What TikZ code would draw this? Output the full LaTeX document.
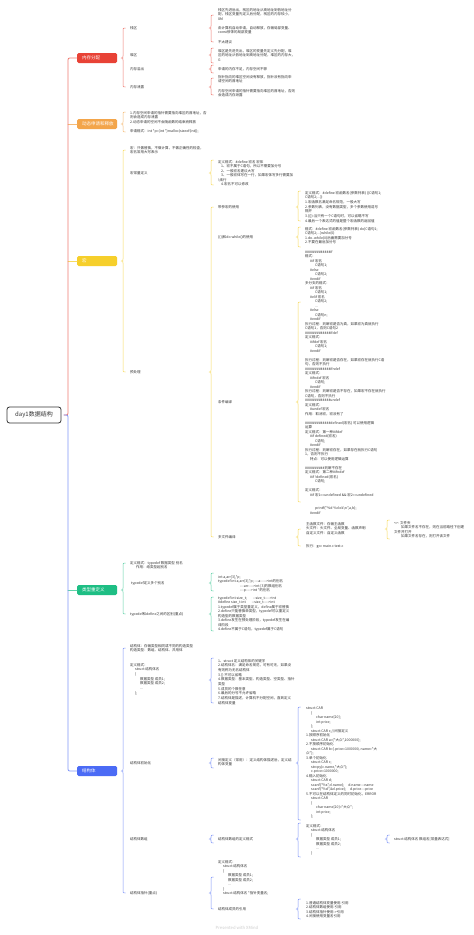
\documentclass[tikz,border=0pt]{standalone}
\usepackage{fontspec}
\setmainfont{Noto Sans CJK SC}[Ligatures=TeXOff]
\definecolor{cred}{HTML}{E84236}
\definecolor{cora}{HTML}{F3A54A}
\definecolor{cyel}{HTML}{F6CF2B}
\definecolor{cgrn}{HTML}{1EBE84}
\definecolor{cblu}{HTML}{4B6BF5}
\definecolor{tx}{HTML}{333333}
\colorlet{ltred}{cred!70}
\colorlet{ltora}{cora!75}
\colorlet{ltyel}{cyel!75}
\colorlet{ltgrn}{cgrn!70}
\colorlet{ltblu}{cblu!70}
\newcommand\brc[5]{\draw[#1,line width=0.5pt,line cap=round,line join=round] (#2+2.5,#3) .. controls (#2,#3) .. (#2,#3+2.5) -- (#2,#4-2) .. controls (#2,#4) .. (#2-2,#4) .. controls (#2,#4) .. (#2,#4+2) -- (#2,#5-2.5) .. controls (#2,#5) .. (#2+2.5,#5);}
\newcommand\ii[1]{\hspace*{#1pt}}
\newcommand\hh{\#\#\#\#\#\#\#\#\#\#\#\#\#}
\begin{document}
\begin{tikzpicture}[x=1pt,y=-1pt,
  t/.style={font=\fontsize{3.5}{4.5}\selectfont, text=tx, inner sep=0pt, align=left, anchor=north west},
  t1/.style={t, anchor=west},
  wide/.style={font=\fontsize{3.5}{4.65}\selectfont},
  box/.style={anchor=west, minimum height=10pt, minimum width=40pt, inner xsep=5pt, inner ysep=0pt, rounded corners=1.5pt, text=white, font=\fontsize{4.5}{5}\selectfont},
  trunk/.style={line width=0.8pt, line cap=round}]
\useasboundingbox (0,0) rectangle (474,935);
\fill[white] (0,0) rectangle (474,935);

% root and main branches
\node[draw=tx, line width=0.8pt, rounded corners=2.5pt, fill=white, minimum width=54pt, minimum height=16pt, inner sep=0pt, font=\fontsize{6}{7}\selectfont, text=tx] (root) at (34,415) {day1数据结构};
\node[box, fill=cred] (n1) at (77,58) {\makebox[30pt][l]{内存分配}};
\node[box, fill=cora] (n2) at (77,124) {\makebox[30pt][l]{动态申请和释放}};
\node[box, fill=cyel] (n3) at (77,261) {\makebox[30pt][l]{宏}};
\node[box, fill=cgrn] (n4) at (77,590) {\makebox[30pt][l]{类型重定义}};
\node[box, fill=cblu] (n5) at (77,771) {\makebox[30pt][l]{结构体}};
\coordinate (tip) at (64,415);
\draw[ltora,trunk] (68,124) -- (n2.west);
\draw[ltyel,trunk] (68,261) -- (n3.west);
\draw[ltgrn,trunk] (68,590) -- (n4.west);
\draw[ltred,trunk] (tip) .. controls (68,415) .. (68,411) -- (68,62) .. controls (68,58) .. (72,58) -- (n1.west);
\draw[ltblu,trunk] (tip) .. controls (68,415) .. (68,419) -- (68,767) .. controls (68,771) .. (72,771) -- (n5.west);

% ---------- 内存分配
\node[t1] (r1) at (130,28) {栈区};
\node[t1] (r2) at (130,55) {堆区};
\node[t1] (r3) at (130,69) {内存溢出};
\node[t1] (r4) at (130,87) {内存泄露};
\brc{ltred}{123}{28}{58}{87}
\node[t] (r1a) at (218,8.1) {栈区先进后出，栈区的地址从高地址到低地址分\\配，栈区变量先定义后分配，栈区的内存较小，\\8M};
\node[t] (r1b) at (218,26.1) {由计算机自动申请，自动释放，存储局部变量、\\const修饰的局部变量};
\node[t1] (r1c) at (218,42) {不太建议};
\brc{ltred}{211}{15}{28}{42}
\node[t] (r2a) at (218,49.1) {堆区是先进先出，堆区的变量先定义先分配，堆\\区的地址从低地址到高地址分配，堆区的内存大，\\G};
\brc{ltred}{211}{48}{55}{63}
\node[t1] (r3a) at (218,69) {申请的内存不足，内存空间不够};
\brc{ltred}{211}{65}{69}{73}
\node[t] (r4a) at (218,75.1) {指针指向的堆区空间没有释放，指针没有指向申\\请空间的首地址};
\node[t] (r4b) at (218,89.1) {内存空间申请的指针需要指向堆区的首地址，否则\\会造成内存泄露};
\brc{ltred}{211}{78}{87}{95}

% ---------- 动态申请和释放
\node[t] (o1) at (130,111.1) {1.内存空间申请的指针需要指向堆区的首地址，否\\则会造成内存泄露\\2.动态申请的空间不会随函数的结束而释放\\ \mbox{}\\申请格式：int *p=(int *)malloc(sizeof(int));};
\brc{ltora}{123}{112}{124}{132}

% ---------- 宏
\node[t] (m0) at (130,146.1) {宏：只做替换，不做计算，不做正确性的检查，\\宏名常用大写表示};
\node[t1] (m1) at (130,173) {宏常量定义};
\node[t1] (m2) at (130,372) {预处理};
\brc{ltyel}{123}{150}{261}{372}
\node[t] (m1a) at (218,160.1) {定义格式：\#define 宏名 宏体\\\ii{3}1、宏不属于C语句，所以不需要加分号\\\ii{3}2、一般宏名建议大写\\\ii{3}3、一般宏体写在一行，如果宏体写多行需要加\\\textbackslash 续行\\\ii{3}4.宏名不可以修改};
\brc{ltyel}{211}{160}{173}{185}
\node[t1] (p1) at (218,207) {带参宏的使用};
\node[t1] (p2) at (218,237) {(\{\})和do while()的使用};
\node[t1] (p3) at (218,402) {条件编译};
\node[t1] (p4) at (218,537) {多文件编译};
\brc{ltyel}{211}{207}{372}{537}
\node[t, wide] (p1a) at (305,191.1) {定义格式：\#define 宏函数名(参数列表) (\{C语句1;\\C语句2;...\})\\1.宏函数名满足命名规范，一般大写\\2.参数列表，没有数据类型，多个参数使用逗号\\隔开\\3.(\{\}):当只有一个C语句时，可以省略不写\\4.最后一个表达式的值是整个宏函数的返回值};
\brc{ltyel}{298}{191}{207}{221}
\node[t] (p2a) at (305,227.1) {格式：\#define 宏函数名(参数列表) do\{C语句1;\\C语句2;...\}while(0)\\1.do..while(0)后面需要加分号\\2.不要在最后加分号};
\brc{ltyel}{298}{227}{237}{247}
\node[t] (p3a) at (305,250.1) {\hh if\\
格式：\\
\ii{5}\#if 宏名\\
\ii{10}C语句1;\\
\ii{5}\#else\\
\ii{10}C语句2;\\
\ii{5}\#endif\\
多分支的格式：\\
\ii{5}\#if 宏名\\
\ii{10}C语句1;\\
\ii{5}\#elif 宏名\\
\ii{10}C语句2;\\
\ii{10}...\\
\ii{5}\#else\\
\ii{10}C语句n;\\
\ii{5}\#endif\\
执行过程：判断宏是否为真，如果宏为真就执行\\
C语句1，否则C语句2\\
\hh ifdef\\
定义格式：\\
\ii{5}\#ifdef 宏名\\
\ii{10}C语句1;\\
\ii{5}\#endif\\
\mbox{}\\
执行过程：判断宏是否存在，如果宏存在就执行C语\\
句，否则不执行\\
\hh ifndef\\
定义格式：\\
\ii{5}\#ifndef 宏名\\
\ii{10}C语句;\\
\ii{5}\#endif\\
执行过程：判断宏是否不存在，如果宏不存在就执行\\
C语句，否则不执行\\
\hh undef\\
定义格式：\\
\ii{5}\#undef 宏名\\
作用：取消宏，宏没有了\\
\mbox{}\\
\hh defined(宏名) 可以使用逻辑\\
运算\\
定义格式：第一种\#ifdef\\
\ii{5}\#if defined(宏名)\\
\ii{10}C语句;\\
\ii{5}\#endif\\
执行过程：判断宏存在，如果存在就执行C语句\\
1，否则不执行\\
\ii{5}特点：可以使用逻辑运算\\
\mbox{}\\
\#\#\#\#\#\#\#\#\#\#判断不存在\\
定义格式：第二种\#ifndef\\
\ii{5}\#if !defined(宏名)\\
\ii{10}C语句;\\
\mbox{}\\
定义格式：\\
\ii{5}\#if 宏1==undefined \&\& 宏2==undefined\\
\mbox{}\\
\mbox{}\\
\ii{10}printf("\%d \%d ok\textbackslash n",a,b);\\
\ii{5}\#endif};
\brc{ltyel}{298}{302}{402}{502}
\node[t] (p4a) at (306,522.1) {主函数文件：存储主函数\\头文件：头文件、全局变量、函数声明\\自定义文件：自定义函数};
\node[t1] (p4b) at (306,546) {执行：gcc main.c test.c};
\brc{ltyel}{298}{529}{537}{546}
\node[t] (p4c) at (394,521.1) {<>: 文件夹\\\ii{7}如果文件名不存在，则在当前路径下创建\\文件并打开\\\ii{7}如果文件名存在，则打开该文件};
\brc{ltyel}{387}{520}{529}{539}

% ---------- 类型重定义
\node[t] (g0) at (130,561.1) {定义格式：typedef 数据类型 别名\\\ii{6}作用：给类型起别名};
\node[t1] (g1) at (131,583) {typedef定义多个别名};
\node[t1] (g2) at (130,614) {typedef和define之间的区别(重点)};
\brc{ltgrn}{123}{563}{590}{614}
\node[t] (g1a) at (218,575.1) {int a,arr[3],*p;\\typedef int a,arr[3],*p; ---a----->int的别名\\\ii{22}---arr---->int [3]的数组别名\\\ii{22}---p---->int *的别名};
\brc{ltgrn}{211}{573}{583}{591}
\node[t] (g2a) at (218,596.1) {typedef int size\_t;\ii{6}--size\_t---->int\\\#define size\_t int\ii{6}--size\_t---->int\\1.typedef属于类型重定义，define属于宏替换\\2.define只能替换单类型，typedef可以重定义\\构造型的数据类型\\3.define发生在预处理阶段，typedef发生在编\\译阶段\\4.define不属于C语句，typedef属于C语句};
\brc{ltgrn}{211}{597}{614}{631}

% ---------- 结构体
\node[t] (b0) at (130,644.1) {结构体：存储类型相同或不同的构造类型\\构造类型：数组、结构体、共用体};
\node[t, wide] (b1) at (130,663.1) {定义格式：\\\ii{5}struct 结构体名\\\ii{5}\{\\\ii{10}数据类型 成员1;\\\ii{10}数据类型 成员2;\\\ii{10}...\\\ii{5}\};};
\node[t1] (b2) at (130,763) {结构体初始化};
\node[t1] (b3) at (130,839) {结构体数组};
\node[t1] (b4) at (130,893) {结构体指针(重点)};
\brc{ltblu}{123}{648}{771}{893}
\node[t, wide] (b1a) at (218,659.1) {1、struct 定义结构体的关键字\\2.结构体名：满足命名规范，可有可无，如果没\\有则称为无名结构体\\3.\{\} 不可以省略\\4.数据类型：基本类型、构造类型、空类型、指针\\类型\\5.成员的个数任意\\6.最后的分号不允许省略\\7.结构体是描述，计算机不分配空间，直到定义\\结构体变量};
\brc{ltblu}{211}{658}{680}{703}
\node[t] (b2a) at (218,758.1) {间接定义（常用）：定义结构体描述后，定义结\\构体变量};
\brc{ltblu}{211}{758}{763}{768}
\node[t] (b2b) at (306,707.1) {struct CAR\\\ii{5}\{\\\ii{10}char name[20];\\\ii{10}int price;\\\ii{5}\};\\\ii{5}struct CAR c;//间接定义\\1.按顺序初始化\\\ii{5}struct CAR a=\{"大众",1000000\};\\2.不按顺序初始化\\\ii{5}struct CAR b=\{.price=1000000,.name="大\\众"\};\\3.单个初始化\\\ii{5}struct CAR c;\\\ii{5}strcpy(c.name,"大众");\\\ii{5}c.price=1000000;\\4.输入初始化\\\ii{5}struct CAR d;\\\ii{5}scanf("\%s",d.name);\ii{4}d.name---name\\\ii{5}scanf("\%d",\&d.price);\ii{4}d.price---price\\5.不可以在结构体定义的同时初始化，ERROR\\\ii{5}struct CAR\\\ii{5}\{\\\ii{10}char name[20]="大众";\\\ii{10}int price;\\\ii{5}\};};
\brc{ltblu}{298}{707}{763}{820}
\node[t1] (b3a) at (218,839) {结构体数组的定义格式};
\brc{ltblu}{211}{835}{839}{843}
\node[t] (b3b) at (306,824.1) {定义格式：\\\ii{5}struct 结构体名\\\ii{5}\{\\\ii{10}数据类型 成员1;\\\ii{10}数据类型 成员2;\\\ii{10}...\\\ii{5}\}};
\brc{ltblu}{298}{823}{839}{857}
\node[t1] (b3c) at (394,839) {struct 结构体名 数组名[常量表达式]};
\brc{ltblu}{387}{835}{839}{843}
\node[t] (b4a) at (218,860.1) {定义格式：\\\ii{5}struct 结构体名\\\ii{5}\{\\\ii{10}数据类型 成员1;\\\ii{10}数据类型 成员2;\\\ii{10}...\\\ii{5}\}\\\ii{5}struct 结构体名 *指针变量名;};
\node[t1] (b4b) at (218,909) {结构体成员的引用};
\brc{ltblu}{211}{877}{893}{909}
\node[t] (b4c) at (306,901.1) {1.普通结构体变量使用.引用\\2.结构体数组使用.引用\\3.结构体指针使用->引用\\4.间接使用变量名引用};
\brc{ltblu}{298}{899}{909}{919}

\node[font=\fontsize{4.2}{5}\selectfont, text=black!20, inner sep=0pt] (wm) at (237,928) {Presented with XMind};
\end{tikzpicture}
\end{document}
